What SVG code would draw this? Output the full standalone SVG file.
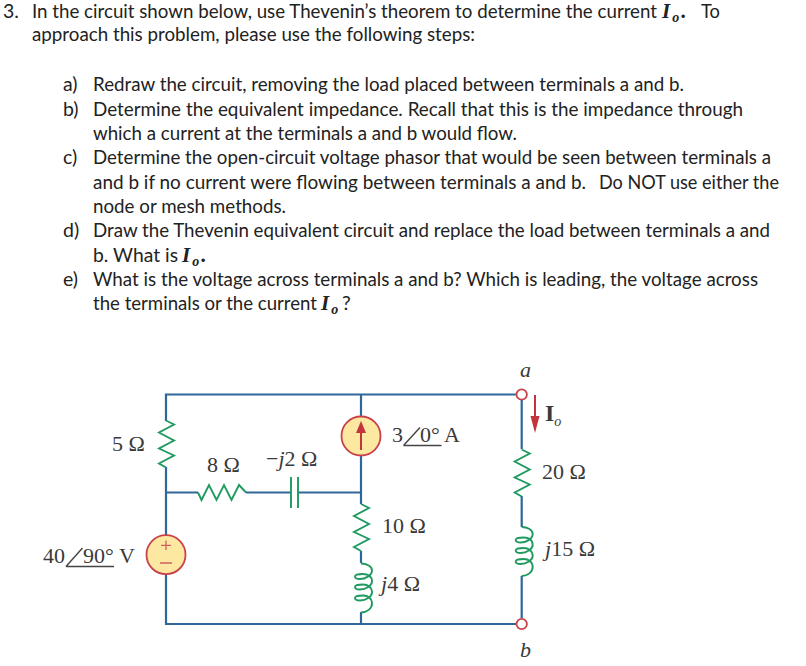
<svg xmlns="http://www.w3.org/2000/svg" width="806" height="666" viewBox="0 0 806 666">
<style>
.t{font-family:Lato,"Open Sans",sans-serif;font-size:19.5px;fill:#222}
.m{font-family:"Liberation Serif",serif;font-size:21px;font-weight:bold;font-style:italic;fill:#222}
.u{font-size:14px}
.s{font-family:"Liberation Serif",serif;font-size:22px;fill:#3a3a3a}
.i{font-style:italic}
.w{fill:none;stroke:#2f6799;stroke-width:2.2}
.g{fill:none;stroke:#1f9a60;stroke-width:1.9}
.c{fill:#fde8a2;stroke:#c9434a;stroke-width:1.8}
.o{fill:#fff;stroke:#c9434a;stroke-width:1.8}
.r{fill:none;stroke:#c2353d;stroke-width:2}
.a{fill:none;stroke:#444;stroke-width:1.4}
</style>
<defs>
<path id="zig" class="g" d="M0 0L8 4L-7 12L8 20L-7 28L8 35L-7 43L0 47"/>
<path id="coil" class="g" d="M0 0C6 0 11 3 11 7C11 12 4 15.500 -1 15.500C-4 15.500 -6 14.500 -6 13C-6 11 -2 10.500 2 10.500C7 10.500 11 13 11 18C11 22 5 26 -1 26C-4 26 -6 25 -6 23.500C-6 21.500 -2 21 2 21C7 21 11 24 11 29C11 33 5 37 -1 37C-4 37 -6 36 -6 34.500C-6 32.500 -2 32 2 32C7 32 11 35 11 40C11 45 6 49 0 49"/>
</defs>
<rect width="806" height="666" fill="#fff"/>
<g id="problem-text">
<text class="t" x="3" y="18">3.</text>
<text class="t" x="32" y="18" textLength="625" lengthAdjust="spacingAndGlyphs">In the circuit shown below, use Thevenin’s theorem to determine the current</text>
<text class="m" x="662" y="18">I<tspan class="u" dx="2" dy="4">o</tspan><tspan dx="2" dy="-4">.</tspan></text>
<text class="t" x="701" y="18" textLength="19" lengthAdjust="spacingAndGlyphs">To</text>
<text class="t" x="32" y="41" textLength="443" lengthAdjust="spacingAndGlyphs">approach this problem, please use the following steps:</text>
<text class="t" x="63" y="91">a)</text>
<text class="t" x="93" y="91" textLength="591" lengthAdjust="spacingAndGlyphs">Redraw the circuit, removing the load placed between terminals a and b.</text>
<text class="t" x="63" y="116">b)</text>
<text class="t" x="93" y="116" textLength="650" lengthAdjust="spacingAndGlyphs">Determine the equivalent impedance.  Recall that this is the impedance through</text>
<text class="t" x="93" y="140" textLength="424" lengthAdjust="spacingAndGlyphs">which a current at the terminals a and b would flow.</text>
<text class="t" x="63" y="164">c)</text>
<text class="t" x="93" y="164" textLength="678" lengthAdjust="spacingAndGlyphs">Determine the open-circuit voltage phasor that would be seen between terminals a</text>
<text class="t" x="93" y="189" textLength="493" lengthAdjust="spacingAndGlyphs">and b if no current were flowing between terminals a and b.</text>
<text class="t" x="599" y="189" textLength="180" lengthAdjust="spacingAndGlyphs">Do NOT use either the</text>
<text class="t" x="93" y="213" textLength="193" lengthAdjust="spacingAndGlyphs">node or mesh methods.</text>
<text class="t" x="63" y="237">d)</text>
<text class="t" x="93" y="237" textLength="677" lengthAdjust="spacingAndGlyphs">Draw the Thevenin equivalent circuit and replace the load between terminals a and</text>
<text class="t" x="93" y="262" textLength="85" lengthAdjust="spacingAndGlyphs">b.  What is</text>
<text class="m" x="182" y="262">I<tspan class="u" dx="2" dy="4">o</tspan><tspan dx="2" dy="-4">.</tspan></text>
<text class="t" x="63" y="286">e)</text>
<text class="t" x="93" y="286" textLength="665" lengthAdjust="spacingAndGlyphs">What is the voltage across terminals a and b? Which is leading, the voltage across</text>
<text class="t" x="93" y="310" textLength="224" lengthAdjust="spacingAndGlyphs">the terminals or the current</text>
<text class="m" x="321" y="310">I<tspan class="u" dx="2" dy="4">o</tspan></text>
<text class="t" x="342" y="310">?</text>
</g>
<g id="connectors">
<path class="w" d="M516 394.500H166V421M166 467V535M166 574V624H516M166 492.500H198M246 492.500H291M298 492.500H361M361 394.500V416M361 456V504M361 551V563M361 612V624M521.700 400V449M521.700 496V527M521.700 576V618"/>
</g>
<g id="r-5"><use href="#zig" x="166" y="420.500"/><text class="s" x="112" y="451">5 Ω</text></g>
<g id="r-8"><path class="g" d="M198 492.500L201.500 500L209 485L216.500 500L224 485L231.500 500L239 485L246 492.500"/><text class="s" x="207" y="472">8 Ω</text></g>
<g id="c-j2"><path class="g" d="M291 477V508M298 477V508" stroke-width="2.200"/><text class="s" x="266" y="466">−<tspan class="i">j</tspan>2 Ω</text></g>
<g id="v-source"><circle class="c" cx="166" cy="554.700" r="19.500"/><path d="M166 540.500V550M161 545.300H171M160 563H172" fill="none" stroke="#d0605f" stroke-width="1.300"/><text class="s" x="43" y="563">40</text><path class="a" d="M66 566.500L82.500 548M66 566.500H114"/><text class="s" x="83" y="563">90° V</text></g>
<g id="i-source"><circle class="c" cx="361" cy="436" r="19.500"/><path d="M361 450V432" class="r" stroke-width="2.400"/><path d="M361 421L356 433H366Z" fill="#c2353d"/><text class="s" x="392" y="442">3</text><path class="a" d="M403.500 445.500L420 427.500M403.500 445.500H441.500"/><text class="s" x="420" y="442">0° A</text></g>
<g id="r-10"><use href="#zig" x="361" y="504"/><text class="s" x="382" y="533">10 Ω</text></g>
<g id="l-j4"><use href="#coil" x="361" y="563.500"/><text class="s" x="381" y="591"><tspan class="i">j</tspan>4 Ω</text></g>
<g id="r-20"><use href="#zig" x="521.700" y="449.500"/><text class="s" x="542" y="479">20 Ω</text></g>
<g id="l-j15"><use href="#coil" x="521.700" y="527"/><text class="s" x="545" y="556"><tspan class="i">j</tspan>15 Ω</text></g>
<g id="terminal-a"><circle class="o" cx="521.700" cy="394.500" r="5.200"/><text class="s i" x="520" y="377">a</text></g>
<g id="terminal-b"><circle class="o" cx="521.700" cy="624" r="5.200"/><text class="s i" x="520" y="657">b</text></g>
<g id="current-io"><path class="r" d="M535 395V420"/><path d="M530.500 416H539.500L535 433Z" fill="#c2353d"/><text class="s" x="545" y="421" font-weight="bold" style="font-size:24px">I<tspan class="i" dy="5" style="font-size:14px;font-weight:normal">o</tspan></text></g>
</svg>
